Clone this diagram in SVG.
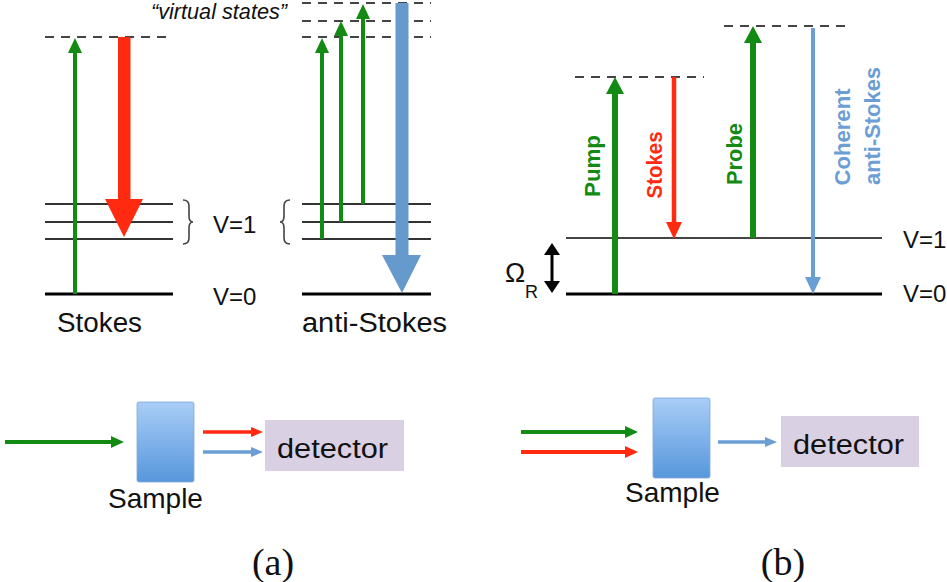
<svg xmlns="http://www.w3.org/2000/svg" width="947" height="582" viewBox="0 0 947 582">
<defs>
<linearGradient id="sampleGrad" x1="0" y1="0" x2="0" y2="1">
<stop offset="0" stop-color="#a9cdf7"/>
<stop offset="1" stop-color="#5797dc"/>
</linearGradient>
<style>
.dash{stroke:#444;stroke-width:2;stroke-dasharray:9 7;fill:none}
.lvl{stroke:#333;stroke-width:2}
.lvl0{stroke:#000;stroke-width:3.2}
.brace{fill:none;stroke:#444;stroke-width:1.6}
.gs{stroke:#138a13;fill:none}
.rs{stroke:#ff2a10;fill:none}
.bs{stroke:#6a9ed4;fill:none}
.gf{fill:#138a13}
.rf{fill:#ff2a10}
.bf{fill:#6a9ed4}
.bigb{fill:#6699cc}
.t{font-family:"Liberation Sans",Arial,sans-serif;fill:#111}
.vl{font-family:"Liberation Sans",Arial,sans-serif;fill:#111;font-size:24px}
.rot{font-family:"Liberation Sans",Arial,sans-serif;font-weight:bold;font-size:22px;text-anchor:middle}
.cap{font-family:"Liberation Serif","Times New Roman",serif;font-size:38px;fill:#111;text-anchor:middle}
.sample{fill:url(#sampleGrad);stroke:#7fa9d8;stroke-width:0.8}
.det{fill:#d9d0e3}
</style>
</defs>
<rect width="947" height="582" fill="#fff"/>

<!-- (a) Stokes levels -->
<g id="stokes-levels">
<line class="dash" x1="45" y1="37" x2="173" y2="37"/>
<line class="lvl" x1="45" y1="204" x2="173" y2="204"/>
<line class="lvl" x1="45" y1="222" x2="173" y2="222"/>
<line class="lvl" x1="45" y1="239" x2="173" y2="239"/>
<line class="lvl0" x1="45" y1="294" x2="173" y2="294"/>
<text class="t" x="57" y="332" font-size="27" textLength="85" lengthAdjust="spacingAndGlyphs">Stokes</text>
</g>
<g id="vlabels-a">
<path class="brace" d="M183,200 Q189,200 189,206 L189,216 Q189,222 193,222 Q189,222 189,228 L189,238 Q189,244 183,244"/>
<path class="brace" d="M290,200 Q284,200 284,206 L284,216 Q284,222 280,222 Q284,222 284,228 L284,238 Q284,244 290,244"/>
<text class="vl" x="213" y="233">V=1</text>
<text class="vl" x="213" y="305">V=0</text>
</g>

<!-- (a) anti-Stokes levels -->
<g id="antistokes-levels">
<line class="dash" x1="302" y1="3" x2="431" y2="3"/>
<line class="dash" x1="302" y1="21" x2="431" y2="21"/>
<line class="dash" x1="302" y1="37" x2="431" y2="37"/>
<line class="lvl" x1="302" y1="204" x2="431" y2="204"/>
<line class="lvl" x1="302" y1="222" x2="431" y2="222"/>
<line class="lvl" x1="302" y1="239" x2="431" y2="239"/>
<line class="lvl0" x1="302" y1="294" x2="431" y2="294"/>
<text class="t" x="302" y="332" font-size="27" textLength="145" lengthAdjust="spacingAndGlyphs">anti-Stokes</text>
<text class="t" x="151" y="19" font-size="22" font-style="italic" textLength="136" lengthAdjust="spacingAndGlyphs">“virtual states”</text>
</g>

<!-- (b) levels -->
<g id="cars-levels">
<line class="dash" x1="575" y1="77" x2="704" y2="77"/>
<line class="dash" x1="724" y1="26" x2="852" y2="26"/>
<line stroke="#444" stroke-width="2" x1="566" y1="238" x2="882" y2="238"/>
<line class="lvl0" x1="566" y1="294" x2="882" y2="294"/>
<text class="vl" x="903" y="248">V=1</text>
<text class="vl" x="903" y="302">V=0</text>
<text class="t" x="505" y="282" font-size="27">Ω</text>
<text class="t" x="525" y="298" font-size="18">R</text>
</g>

<g id="transitions">
<!-- (a) Stokes -->
<line class="gs" stroke-width="4" x1="75" y1="294" x2="75" y2="50"/>
<polygon class="gf" points="75,38 68,53 82,53"/>
<rect class="rf" x="118" y="37" width="12.5" height="164"/>
<polygon class="rf" points="105,199 143,199 124,237"/>
<!-- (a) anti-Stokes -->
<line class="gs" stroke-width="4" x1="322" y1="239" x2="322" y2="50"/>
<polygon class="gf" points="322,38 315,53 329,53"/>
<line class="gs" stroke-width="4" x1="341" y1="222" x2="341" y2="33"/>
<polygon class="gf" points="341,21 334,36 348,36"/>
<line class="gs" stroke-width="4" x1="363" y1="204" x2="363" y2="16"/>
<polygon class="gf" points="363,4 356,19 370,19"/>
<rect class="bigb" x="395.5" y="3" width="13" height="254"/>
<polygon class="bigb" points="382,255 421,255 402,293"/>
<!-- (b) CARS -->
<line class="gs" stroke-width="6" x1="615" y1="294" x2="615" y2="92"/>
<polygon class="gf" points="615,77 606,94 624,94"/>
<line class="rs" stroke-width="4.5" x1="674" y1="77" x2="674" y2="224"/>
<polygon class="rf" points="666,222 682,222 674,239"/>
<line class="gs" stroke-width="6" x1="753" y1="238" x2="753" y2="41"/>
<polygon class="gf" points="753,26 744,43 762,43"/>
<line class="bs" stroke-width="4" x1="813" y1="28" x2="813" y2="279"/>
<polygon class="bf" points="805,277 821,277 813,294"/>
<!-- Omega_R double arrow -->
<line stroke="#000" stroke-width="3" x1="552" y1="252" x2="552" y2="284"/>
<polygon fill="#000" points="552,243 544,255 560,255"/>
<polygon fill="#000" points="552,293 544,281 560,281"/>
</g>

<g id="cars-labels">
<text class="rot" fill="#138a13" transform="translate(600,166) rotate(-90)" textLength="62" lengthAdjust="spacingAndGlyphs">Pump</text>
<text class="rot" fill="#ff2a10" transform="translate(662,165) rotate(-90)" textLength="67" lengthAdjust="spacingAndGlyphs">Stokes</text>
<text class="rot" fill="#138a13" transform="translate(742,154) rotate(-90)" textLength="62" lengthAdjust="spacingAndGlyphs">Probe</text>
<text class="rot" fill="#6a9ed4" transform="translate(850,137) rotate(-90)" textLength="97" lengthAdjust="spacingAndGlyphs">Coherent</text>
<text class="rot" fill="#6a9ed4" transform="translate(880,126) rotate(-90)" textLength="118" lengthAdjust="spacingAndGlyphs">anti-Stokes</text>
</g>

<!-- (a) bottom setup -->
<g id="sample-a">
<rect class="sample" x="137" y="402" width="57" height="80" rx="2"/>
<text class="t" x="108" y="508" font-size="28">Sample</text>
</g>
<g id="detector-a">
<rect class="det" x="265" y="420" width="139" height="51"/>
<text class="t" x="277" y="458" font-size="27" textLength="111" lengthAdjust="spacingAndGlyphs">detector</text>
</g>
<!-- (b) bottom setup -->
<g id="sample-b">
<rect class="sample" x="653" y="398" width="57" height="80" rx="2"/>
<text class="t" x="625" y="502" font-size="28">Sample</text>
</g>
<g id="detector-b">
<rect class="det" x="781" y="416" width="138" height="51"/>
<text class="t" x="793" y="454" font-size="27" textLength="111" lengthAdjust="spacingAndGlyphs">detector</text>
</g>

<g id="beams">
<line class="gs" stroke-width="4" x1="5" y1="442" x2="112" y2="442"/>
<polygon class="gf" points="124,442 111,436 111,448"/>
<line class="rs" stroke-width="3.5" x1="203" y1="432" x2="252" y2="432"/>
<polygon class="rf" points="263,432 251,427 251,437"/>
<line class="bs" stroke-width="3.5" x1="203" y1="452" x2="252" y2="452"/>
<polygon class="bf" points="263,452 251,447 251,457"/>
<line class="gs" stroke-width="4" x1="521" y1="432" x2="626" y2="432"/>
<polygon class="gf" points="638,432 625,426 625,438"/>
<line class="rs" stroke-width="4" x1="521" y1="452" x2="626" y2="452"/>
<polygon class="rf" points="638,452 625,446 625,458"/>
<line class="bs" stroke-width="3.5" x1="718" y1="442" x2="766" y2="442"/>
<polygon class="bf" points="777,442 765,437 765,447"/>
</g>

<g id="captions">
<text class="cap" x="273" y="575">(a)</text>
<text class="cap" x="783" y="575">(b)</text>
</g>
</svg>
